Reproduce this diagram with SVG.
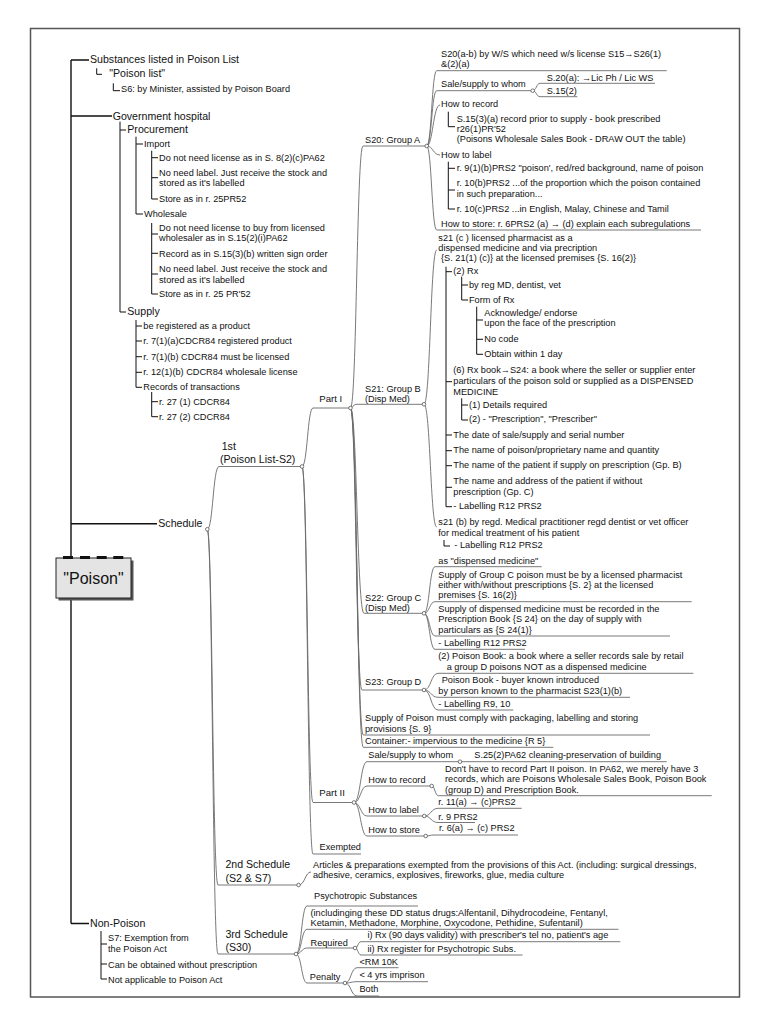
<svg xmlns="http://www.w3.org/2000/svg" width="768" height="1024" viewBox="0 0 768 1024">
<defs>
<style>
text{font-family:"Liberation Sans",Arial,sans-serif;font-size:9.2px;fill:#111}
.L{font-size:10.6px}
.P{font-size:9.6px}
.e{stroke:#111;stroke-width:1;fill:none}
.tr{stroke:#111;stroke-width:1.4;fill:none}
.c{stroke:#6a6a6a;stroke-width:0.9;fill:none}
.n{fill:#fff;stroke:#555;stroke-width:0.8}
</style>
</defs>
<rect width="768" height="1024" fill="#fff"/>
<rect x="30.5" y="28.5" width="709" height="968.5" fill="none" stroke="#555" stroke-width="1.5"/>
<g id="connectors">
<path class="tr" d="M71,60 V923.5 M71,60 H89 M71,116 H112 M71,523.7 H157 M71,923.5 H89"/>
<path class="e" d="M96.7,68.3 V74.3 H102 M113.3,83.3 V90.7 H120"/>
<path class="e" d="M120,121.7 V312 H126 M120,130 H126"/>
<path class="e" d="M136,136.7 V214 H143 M136,144 H143"/>
<path class="e" d="M151.7,150.7 V199 H158 M151.7,157.7 H158 M151.7,177.7 H158"/>
<path class="e" d="M151.7,223 V294 H158 M151.7,234 H158 M151.7,253.3 H158 M151.7,274 H158"/>
<path class="e" d="M136,320 V387.3 H142 M136,326 H142 M136,341 H142 M136,356.7 H142 M136,372.3 H142"/>
<path class="e" d="M151.7,392 V416.7 H158 M151.7,401.7 H158"/>
<path class="e" d="M101,931 V979 H107 M101,944 H107 M101,964 H107"/>
<path class="e" d="M448.3,111.7 V126.7 H455 M448.3,161.7 V209 H455 M448.3,168.3 H455 M448.3,190 H455"/>
<path class="e" d="M446,266.7 V506.7 H452 M446,271.7 H452 M446,381.7 H452 M446,435 H452 M446,450.7 H452 M446,465.7 H452 M446,487.3 H452"/>
<path class="e" d="M461.7,276.7 V300 H468 M461.7,285 H468"/>
<path class="e" d="M476.7,306.7 V354.3 H483 M476.7,320 H483 M476.7,339.3 H483"/>
<path class="e" d="M461.7,398.3 V420 H468 M461.7,405 H468"/>
<path class="e" d="M444,540 V546 H450"/>
<path class="c" d="M207.3,529.3 C213,529.3 213,466.5 219,466.5 H302"/>
<path class="c" d="M207.3,529.3 C212.5,529.3 212.5,885 218,885 H298.6"/>
<path class="c" d="M207.3,529.3 C212.5,529.3 212.5,954 218,954 H296"/>
<path class="c" d="M302,466.5 C307.5,466.5 307.5,408 313,408 H350.5"/>
<path class="c" d="M302,466.5 C307.5,466.5 307.5,802.5 313,802.5 H354"/>
<path class="c" d="M302,466.5 C307.5,466.5 307.5,854 313,854 H361"/>
<path class="c" d="M350.5,408 C356.7,408 356.7,146 363,146 H426.7"/>
<path class="c" d="M350.5,408 C353.2,408 353.2,404.3 356,404.3 H424"/>
<path class="c" d="M350.5,408 C357,408 357,613.3 364,613.3 H424"/>
<path class="c" d="M350.5,408 C356,408 356,690 362,690 H424"/>
<path class="c" d="M350.5,408 C357,408 357,735 363.3,735 H650"/>
<path class="c" d="M350.5,408 C357,408 357,747.3 363.3,747.3 H553.3"/>
<path class="c" d="M426.7,146 C431.7,146 431.7,70.7 436.7,70.7 H666.7"/>
<path class="c" d="M426.7,146 C431.7,146 431.7,90.7 436.7,90.7 H532.7"/>
<path class="c" d="M426.7,146 C433,146 433,105 440,105"/>
<path class="c" d="M426.7,146 C433,146 433,155 440,155"/>
<path class="c" d="M426.7,146 C431.7,146 431.7,230 436.7,230 H701"/>
<path class="c" d="M532.7,90.7 C536.4,90.7 536.4,83.3 540,83.3 H655"/>
<path class="c" d="M532.7,90.7 C536.4,90.7 536.4,96.7 540,96.7 H577.3"/>
<path class="c" d="M424,404.3 C430.4,404.3 430.4,250 436.7,250"/>
<path class="c" d="M424,404.3 C430.4,404.3 430.4,527 436.7,527"/>
<path class="c" d="M424,613.3 C429.5,613.3 429.5,566.7 435,566.7 H541.7"/>
<path class="c" d="M424,613.3 C429.5,613.3 429.5,601.7 435,601.7 H691.7"/>
<path class="c" d="M424,613.3 C429.5,613.3 429.5,636 435,636 H670"/>
<path class="c" d="M424,613.3 C429.5,613.3 429.5,649.3 435,649.3 H525"/>
<path class="c" d="M424,690 C431,690 431,673.3 438,673.3 H693.3"/>
<path class="c" d="M424,690 C431,690 431,697.3 438,697.3 H630"/>
<path class="c" d="M424,690 C431,690 431,710 438,710 H513.3"/>
<path class="c" d="M354,802.5 C360.5,802.5 360.5,761.7 367,761.7 H460"/>
<path class="c" d="M354,802.5 C360.5,802.5 360.5,786 367,786 H431.7"/>
<path class="c" d="M354,802.5 C360.5,802.5 360.5,816 367,816 H424.3"/>
<path class="c" d="M354,802.5 C360.5,802.5 360.5,836 367,836 H425.7"/>
<path class="c" d="M460,761.7 H666.7"/>
<path class="c" d="M431.7,786 C435,786 435,795.7 438.3,795.7 H711.7"/>
<path class="c" d="M424.3,816 C431,816 431,808.3 438,808.3 H521.7"/>
<path class="c" d="M424.3,816 C431,816 431,822.5 438,822.5 H475"/>
<path class="c" d="M425.7,836 C430,836 430,835 434,835 H518"/>
<path class="c" d="M298.6,885 C305,885 305,872 311,872"/>
<path class="c" d="M296,954 C301.5,954 301.5,906 307,906 H418"/>
<path class="c" d="M296,954 C301.5,954 301.5,929.3 307,929.3 H618.5"/>
<path class="c" d="M296,954 C301.5,954 301.5,948 307,948 H355"/>
<path class="c" d="M296,954 C301.5,954 301.5,983 307,983 H345"/>
<path class="c" d="M355,948 C358,948 358,941.7 361,941.7 H620.3"/>
<path class="c" d="M355,948 C358,948 358,955 361,955 H522.5"/>
<path class="c" d="M345,983 C351,983 351,967.7 357,967.7 H398.6"/>
<path class="c" d="M345,983 C351,983 351,981.7 357,981.7 H428"/>
<path class="c" d="M345,983 C351,983 351,996 357,996 H379"/>
<circle class="n" cx="207.3" cy="529.3" r="1.8"/>
<circle class="n" cx="302" cy="466.5" r="1.8"/>
<circle class="n" cx="350.5" cy="408" r="1.8"/>
<circle class="n" cx="426.7" cy="146" r="1.8"/>
<circle class="n" cx="532.7" cy="90.7" r="1.8"/>
<circle class="n" cx="424" cy="404.3" r="1.8"/>
<circle class="n" cx="424" cy="613.3" r="1.8"/>
<circle class="n" cx="424" cy="690" r="1.8"/>
<circle class="n" cx="354" cy="802.5" r="1.8"/>
<circle class="n" cx="460" cy="761.7" r="1.8"/>
<circle class="n" cx="431.7" cy="786" r="1.8"/>
<circle class="n" cx="424.3" cy="816" r="1.8"/>
<circle class="n" cx="425.7" cy="836" r="1.8"/>
<circle class="n" cx="298.6" cy="885" r="1.8"/>
<circle class="n" cx="296" cy="954" r="1.8"/>
<circle class="n" cx="355" cy="948" r="1.8"/>
<circle class="n" cx="345" cy="983" r="1.8"/>
</g>
<g id="poison">
<rect x="58.5" y="560.5" width="75" height="40" fill="#555"/>
<rect x="56" y="558" width="75" height="40" fill="#e4e4e4" stroke="#222" stroke-width="1"/>
<path d="M63,557.5h10 M80,557.5h10 M96.7,557.5h10 M113.3,557.5h10" stroke="#111" stroke-width="3"/>
<text x="93.5" y="584" font-size="16" text-anchor="middle" style="font-size:16px">"Poison"</text>
</g>
<g id="n-substances"><text class="L" x="90" y="63.3">Substances listed in Poison List</text></g>
<g id="n-poisonlist"><text class="L" x="109.3" y="76.7">"Poison list"</text></g>
<g id="n-s6"><text x="121" y="91.7">S6: by Minister, assisted by Poison Board</text></g>
<g id="n-govhosp"><text class="L" x="112.7" y="120">Government hospital</text></g>
<g id="n-procurement"><text class="L" x="127.3" y="133.3">Procurement</text></g>
<g id="n-import"><text x="144" y="147.3">Import</text></g>
<g id="n-imp1"><text x="159" y="160.7">Do not need license as in S. 8(2)(c)PA62</text></g>
<g id="n-imp2"><text x="159" y="175.7">No need label. Just receive the stock and</text><text x="159" y="186">stored as it's labelled</text></g>
<g id="n-imp3"><text x="159" y="202.3">Store as in r. 25PR52</text></g>
<g id="n-wholesale"><text x="144" y="217.3">Wholesale</text></g>
<g id="n-ws1"><text x="159" y="230.7">Do not need license to buy from licensed</text><text x="159" y="241.3">wholesaler as in S.15(2)(i)PA62</text></g>
<g id="n-ws2"><text x="159" y="256.7">Record as in S.15(3)(b) written sign order</text></g>
<g id="n-ws3"><text x="159" y="272">No need label. Just receive the stock and</text><text x="159" y="282.7">stored as it's labelled</text></g>
<g id="n-ws4"><text x="159" y="297.3">Store as in r. 25 PR'52</text></g>
<g id="n-supply"><text class="L" x="127.3" y="315">Supply</text></g>
<g id="n-sup1"><text x="143.3" y="329">be registered as a product</text></g>
<g id="n-sup2"><text x="143.3" y="344">r. 7(1)(a)CDCR84 registered product</text></g>
<g id="n-sup3"><text x="143.3" y="359.7">r. 7(1)(b) CDCR84 must be licensed</text></g>
<g id="n-sup4"><text x="143.3" y="375.3">r. 12(1)(b) CDCR84 wholesale license</text></g>
<g id="n-sup5"><text x="143.3" y="390.3">Records of transactions</text></g>
<g id="n-rec1"><text x="159" y="404.7">r. 27 (1) CDCR84</text></g>
<g id="n-rec2"><text x="159" y="419.7">r. 27 (2) CDCR84</text></g>
<g id="n-schedule"><text class="L" x="158.3" y="526.7">Schedule</text></g>
<g id="n-nonpoison"><text class="L" x="90" y="927">Non-Poison</text></g>
<g id="n-np1"><text x="108" y="941">S7: Exemption from</text><text x="108" y="952">the Poison Act</text></g>
<g id="n-np2"><text x="108" y="967.5">Can be obtained without prescription</text></g>
<g id="n-np3"><text x="108" y="982.5">Not applicable to Poison Act</text></g>
<g id="n-1st"><text class="L" x="221.7" y="450">1st</text><text class="L" x="220" y="462.7">(Poison List-S2)</text></g>
<g id="n-2nd"><text class="L" x="225.4" y="868.3">2nd Schedule</text><text class="L" x="225.4" y="881.7">(S2 &amp; S7)</text></g>
<g id="n-3rd"><text class="L" x="225.4" y="938.3">3rd Schedule</text><text class="L" x="225.4" y="951">(S30)</text></g>
<g id="n-part1"><text class="P" x="319.3" y="401.7">Part I</text></g>
<g id="n-part2"><text class="P" x="319.3" y="795.7">Part II</text></g>
<g id="n-exempted"><text x="319.6" y="850">Exempted</text></g>
<g id="n-s20"><text x="365" y="143.3">S20: Group A</text></g>
<g id="n-s20a"><text x="441" y="56.7">S20(a-b) by W/S which need w/s license S15→S26(1)</text><text x="441" y="66.7">&amp;(2)(a)</text></g>
<g id="n-s20sale"><text x="441" y="87.3">Sale/supply to whom</text></g>
<g id="n-s20sale1"><text x="546.7" y="81">S.20(a): →Lic Ph / Lic WS</text></g>
<g id="n-s20sale2"><text x="546.7" y="94">S.15(2)</text></g>
<g id="n-s20rec"><text x="441" y="107.3">How to record</text></g>
<g id="n-s20rec1"><text x="456.7" y="121.7">S.15(3)(a) record prior to supply - book prescribed</text><text x="456.7" y="131.7">r26(1)PR'52</text><text x="456.7" y="142.3">(Poisons Wholesale Sales Book - DRAW OUT the table)</text></g>
<g id="n-s20lab"><text x="441" y="157.7">How to label</text></g>
<g id="n-s20lab1"><text x="456.7" y="170.7">r. 9(1)(b)PRS2 "poison', red/red background, name of poison</text></g>
<g id="n-s20lab2"><text x="456.7" y="186">r. 10(b)PRS2 ...of the proportion which the poison contained</text><text x="456.7" y="196.7">in such preparation...</text></g>
<g id="n-s20lab3"><text x="456.7" y="211.7">r. 10(c)PRS2 ...in English, Malay, Chinese and Tamil</text></g>
<g id="n-s20store"><text x="441" y="227.3">How to store: r. 6PRS2 (a) → (d) explain each subregulations</text></g>
<g id="n-s21"><text x="365" y="391.7">S21: Group B</text><text x="365" y="401.7">(Disp Med)</text></g>
<g id="n-s21c"><text x="438.3" y="241">s21 (c ) licensed pharmacist as a</text><text x="438.3" y="251">dispensed medicine and via precription</text><text x="441" y="261">{S. 21(1) (c)} at the licensed premises {S. 16(2)}</text></g>
<g id="n-rx2"><text x="453.3" y="274.3">(2) Rx</text></g>
<g id="n-rx2a"><text x="469" y="288.3">by reg MD, dentist, vet</text></g>
<g id="n-rx2b"><text x="469" y="302.7">Form of Rx</text></g>
<g id="n-form1"><text x="484.3" y="316">Acknowledge/ endorse</text><text x="484.3" y="326">upon the face of the prescription</text></g>
<g id="n-form2"><text x="484.3" y="342.3">No code</text></g>
<g id="n-form3"><text x="484.3" y="357.3">Obtain within 1 day</text></g>
<g id="n-rx6"><text x="453.3" y="373.3">(6) Rx book→S24: a book where the seller or supplier enter</text><text x="453.3" y="384.3">particulars of the poison sold or supplied as a DISPENSED</text><text x="453.3" y="395">MEDICINE</text></g>
<g id="n-rx6a"><text x="469" y="407.7">(1) Details required</text></g>
<g id="n-rx6b"><text x="469" y="422.3">(2) - "Prescription", "Prescriber"</text></g>
<g id="n-d1"><text x="453.3" y="438.3">The date of sale/supply and serial number</text></g>
<g id="n-d2"><text x="453.3" y="453.3">The name of poison/proprietary name and quantity</text></g>
<g id="n-d3"><text x="453.3" y="468.3">The name of the patient if supply on prescription (Gp. B)</text></g>
<g id="n-d4"><text x="453.3" y="484">The name and address of the patient if without</text><text x="453.3" y="495">prescription (Gp. C)</text></g>
<g id="n-d5"><text x="453.3" y="509.3">- Labelling R12 PRS2</text></g>
<g id="n-s21b"><text x="438.3" y="525">s21 (b) by regd. Medical practitioner regd dentist or vet officer</text><text x="438.3" y="536">for medical treatment of his patient</text></g>
<g id="n-s21b1"><text x="454.3" y="548.3">- Labelling R12 PRS2</text></g>
<g id="n-s22"><text x="365" y="600.7">S22: Group C</text><text x="365" y="610.7">(Disp Med)</text></g>
<g id="n-s22a"><text x="438.3" y="564.3">as "dispensed medicine"</text></g>
<g id="n-s22b"><text x="438.3" y="577.7">Supply of Group C poison must be by a licensed pharmacist</text><text x="438.3" y="587.7">either with/without prescriptions  {S. 2} at the licensed</text><text x="438.3" y="597.7">premises {S. 16(2)}</text></g>
<g id="n-s22c"><text x="438.3" y="611.7">Supply of dispensed medicine must be recorded in the</text><text x="438.3" y="621.7">Prescription Book  {S 24} on the day of supply with</text><text x="438.3" y="632.7">particulars as {S 24(1)}</text></g>
<g id="n-s22d"><text x="438.3" y="646">- Labelling R12 PRS2</text></g>
<g id="n-s23"><text x="365" y="685">S23: Group D</text></g>
<g id="n-s23a"><text x="438.3" y="659.3">(2) Poison Book: a book where a seller records sale by retail</text><text x="446.7" y="670">a group D poisons NOT as a dispensed medicine</text></g>
<g id="n-s23b"><text x="441.7" y="683.3">Poison Book - buyer known introduced</text><text x="438.3" y="694">by person known to the pharmacist S23(1)(b)</text></g>
<g id="n-s23c"><text x="438.3" y="707.3">- Labelling R9, 10</text></g>
<g id="n-pack"><text x="365" y="721">Supply of Poison must comply with packaging, labelling and storing</text><text x="365" y="731.7">provisions  {S. 9}</text></g>
<g id="n-container"><text x="365" y="744.3">Container:- impervious to the medicine {R 5}</text></g>
<g id="n-p2sale"><text x="368.3" y="758.3">Sale/supply to whom</text></g>
<g id="n-p2sale1"><text x="474.3" y="758.3">S.25(2)PA62 cleaning-preservation of building</text></g>
<g id="n-p2rec"><text x="368.3" y="783.3">How to record</text></g>
<g id="n-p2rec1"><text x="445" y="771.7">Don't have to record Part II poison. In PA62, we merely have 3</text><text x="445" y="782.3">records, which are Poisons Wholesale Sales Book, Poison Book</text><text x="445" y="793.3">(group D) and Prescription Book.</text></g>
<g id="n-p2lab"><text x="368.3" y="813.3">How to label</text></g>
<g id="n-p2lab1"><text x="438.3" y="805">r. 11(a) → (c)PRS2</text></g>
<g id="n-p2lab2"><text x="438.3" y="819.5">r. 9 PRS2</text></g>
<g id="n-p2store"><text x="368.3" y="832.7">How to store</text></g>
<g id="n-p2store1"><text x="439" y="830.7">r. 6(a) → (c) PRS2</text></g>
<g id="n-articles"><text x="313" y="868.3">Articles &amp; preparations exempted from the provisions of this Act. (including: surgical dressings,</text><text x="313" y="878.3">adhesive, ceramics, explosives, fireworks, glue, media culture</text></g>
<g id="n-psycho"><text x="314" y="899">Psychotropic Substances</text></g>
<g id="n-dd"><text x="310.5" y="915.7">(includinging these DD status drugs:Alfentanil, Dihydrocodeine, Fentanyl,</text><text x="310.5" y="925.7">Ketamin, Methadone, Morphine, Oxycodone, Pethidine, Sufentanil)</text></g>
<g id="n-required"><text x="310.5" y="945.7">Required</text></g>
<g id="n-req1"><text x="367.4" y="938.3">i) Rx (90 days validity) with prescriber's tel no, patient's age</text></g>
<g id="n-req2"><text x="367.4" y="951.7">ii) Rx register for Psychotropic Subs.</text></g>
<g id="n-penalty"><text x="309.8" y="980">Penalty</text></g>
<g id="n-pen1"><text x="359.4" y="965">&lt;RM 10K</text></g>
<g id="n-pen2"><text x="359.4" y="978.3">&lt; 4 yrs imprison</text></g>
<g id="n-pen3"><text x="359.4" y="991.7">Both</text></g>
</svg>
